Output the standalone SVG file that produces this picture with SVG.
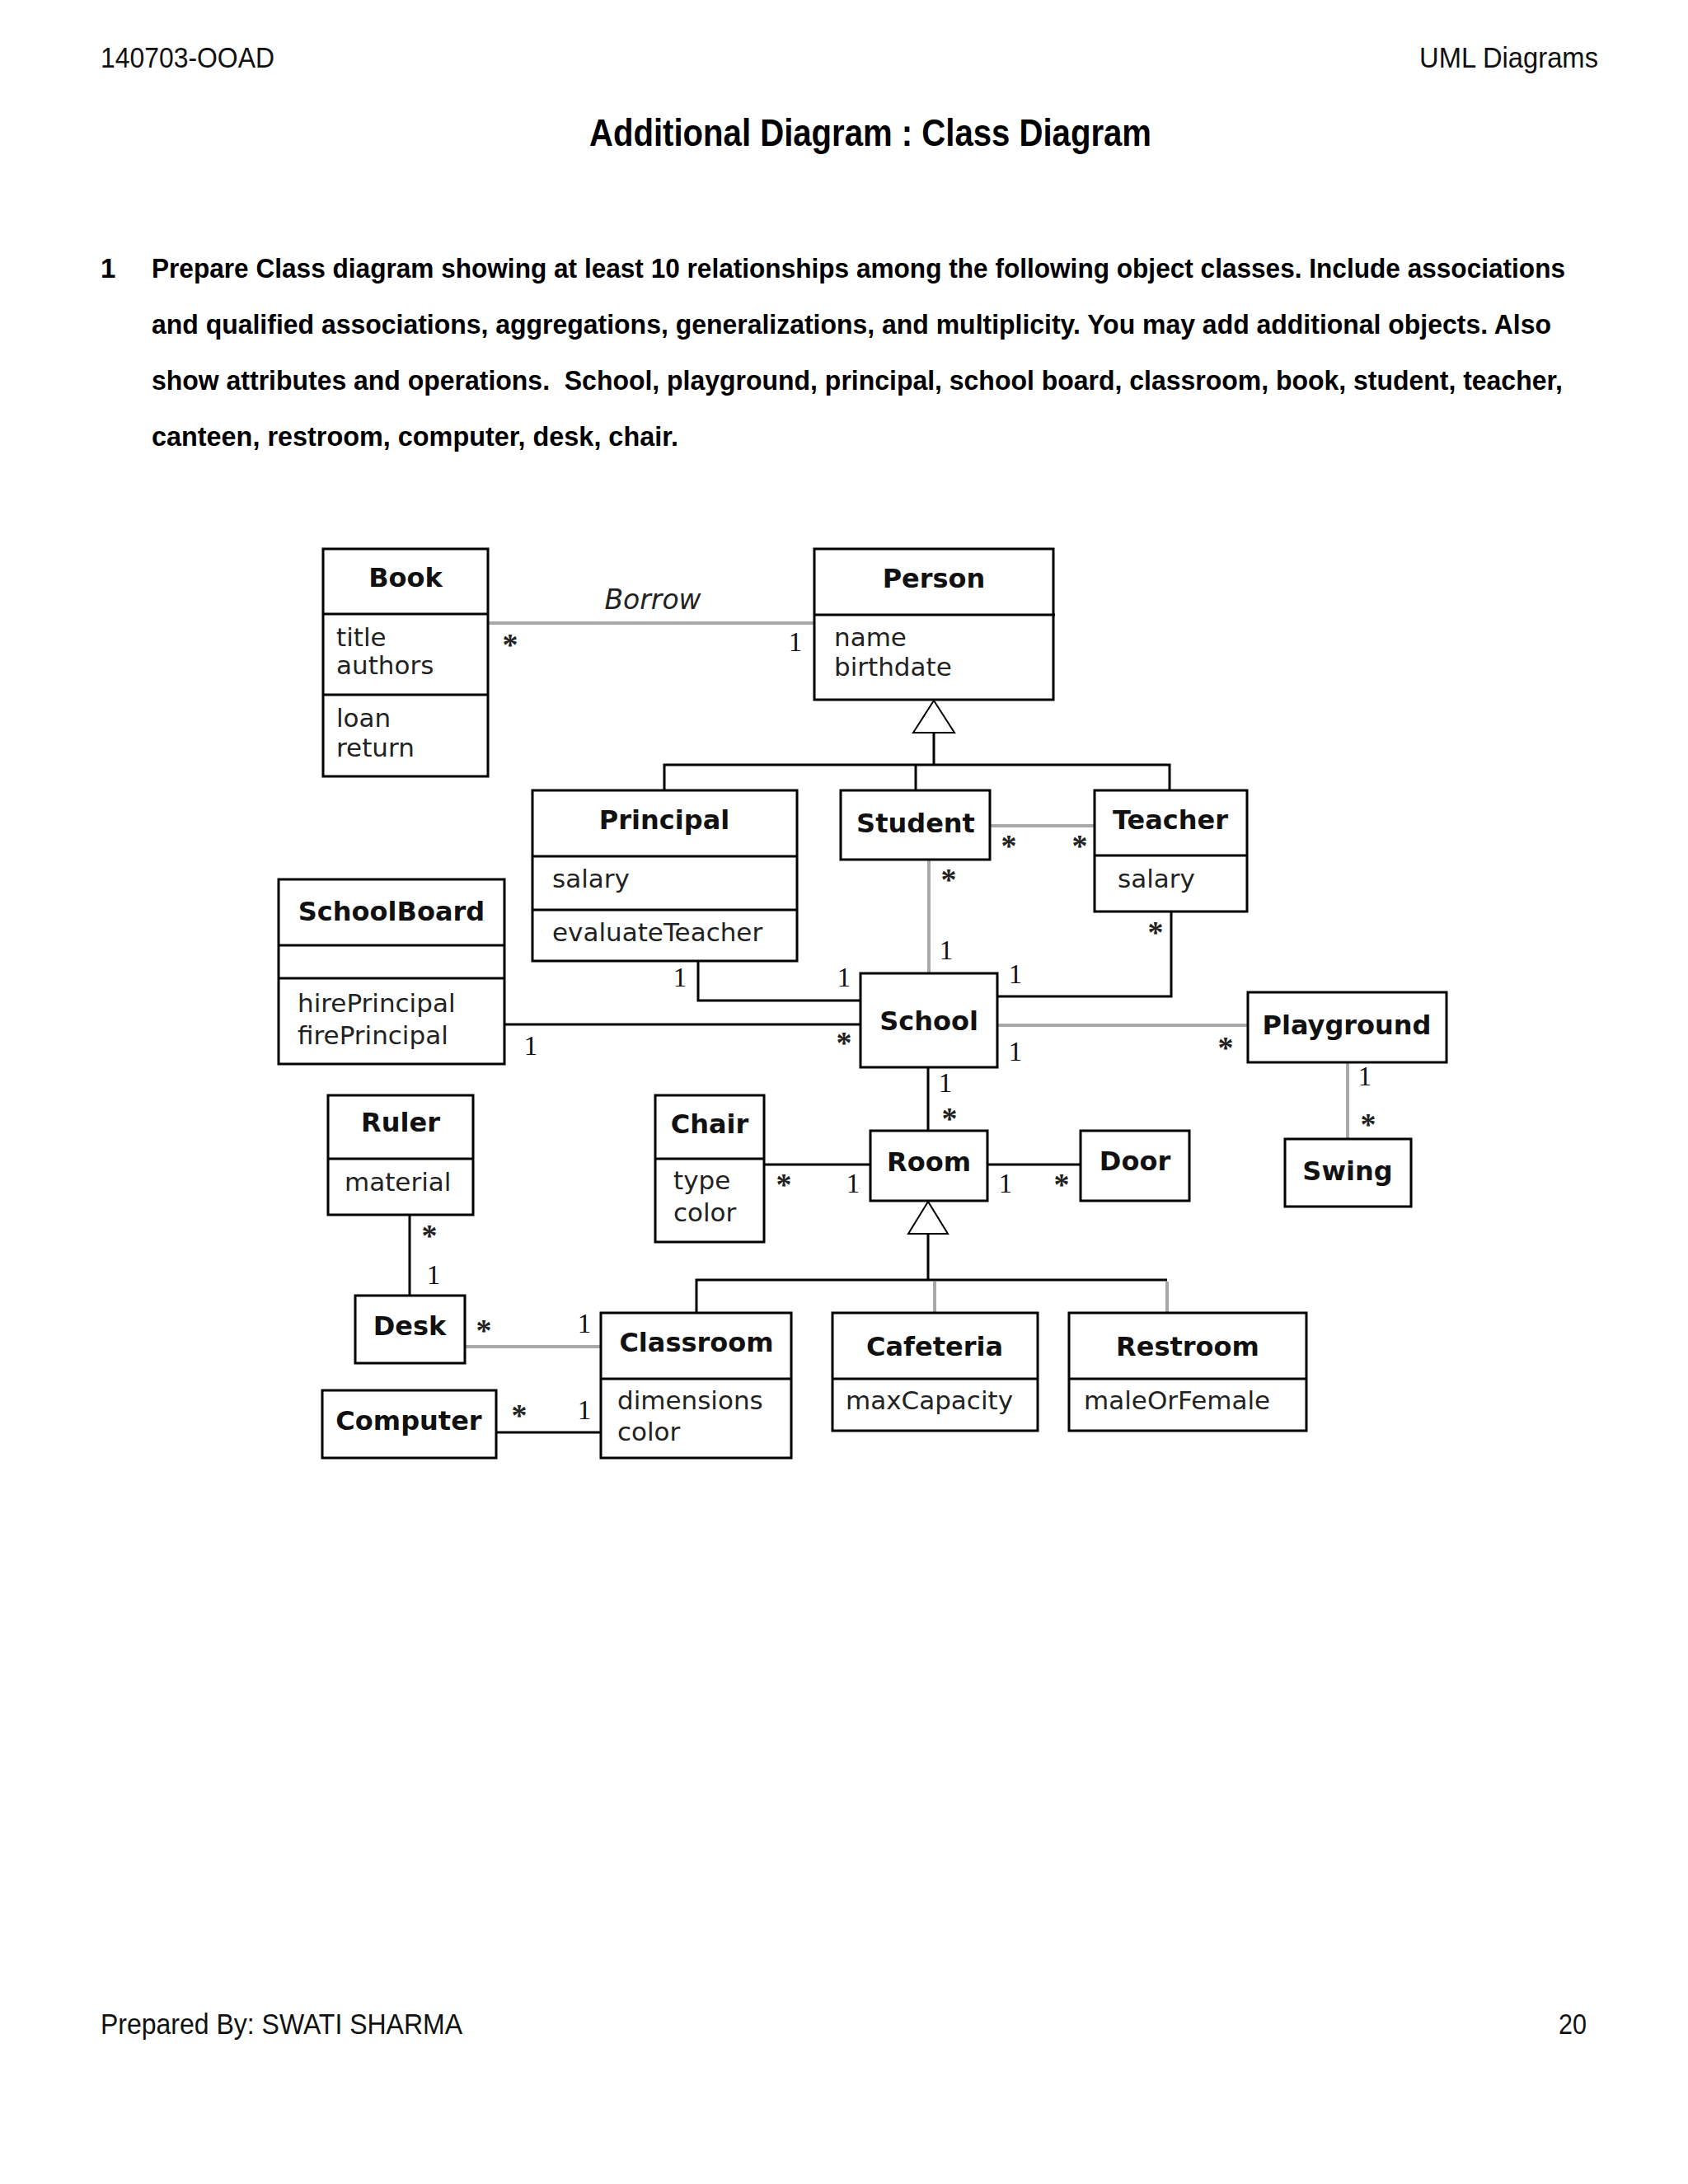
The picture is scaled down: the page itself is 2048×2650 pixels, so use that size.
<svg xmlns="http://www.w3.org/2000/svg" width="2048" height="2650" viewBox="0 0 2048 2650">
<style>
.hd{font-family:"Liberation Sans",Arial,sans-serif;font-size:35px;fill:#111}
.tt{font-family:"Liberation Sans",Arial,sans-serif;font-size:46px;font-weight:bold;fill:#000}
.q{font-family:"Liberation Sans",Arial,sans-serif;font-size:33px;font-weight:bold;fill:#000}
.box{fill:#fff;stroke:#000;stroke-width:3}
.sep{stroke:#000;stroke-width:3}
.n{font-family:"DejaVu Sans",sans-serif;font-size:32px;font-weight:bold;text-anchor:middle;fill:#111}
.a{font-family:"DejaVu Sans",sans-serif;font-size:31px;fill:#222}
.m{font-family:"Liberation Serif",serif;font-size:33px;text-anchor:middle;fill:#111}
.s{font-family:"Liberation Serif",serif;font-size:38px;font-weight:bold;text-anchor:middle;fill:#222}
.k{fill:none;stroke:#000;stroke-width:3}
.g{fill:none;stroke:#a8a8a8;stroke-width:4}
.tri{fill:#fff;stroke:#000;stroke-width:2}
.lbl{font-family:"DejaVu Sans",sans-serif;font-size:33px;font-style:italic;text-anchor:middle;fill:#222}
</style>
<rect x="0" y="0" width="2048" height="2650" fill="#fff"/>

<g id="page-text">
<text class="hd" x="122" y="82" textLength="211" lengthAdjust="spacingAndGlyphs">140703-OOAD</text>
<text class="hd" x="1722" y="82" textLength="217" lengthAdjust="spacingAndGlyphs">UML Diagrams</text>
<text class="tt" x="715" y="177" textLength="682" lengthAdjust="spacingAndGlyphs">Additional Diagram : Class Diagram</text>
<text class="q" x="122" y="337">1</text>
<text class="q" x="184" y="337" textLength="1715" lengthAdjust="spacingAndGlyphs">Prepare Class diagram showing at least 10 relationships among the following object classes. Include associations</text>
<text class="q" x="184" y="405" textLength="1698" lengthAdjust="spacingAndGlyphs">and qualified associations, aggregations, generalizations, and multiplicity. You may add additional objects. Also</text>
<text class="q" x="184" y="473" textLength="1712" lengthAdjust="spacingAndGlyphs" xml:space="preserve">show attributes and operations.  School, playground, principal, school board, classroom, book, student, teacher,</text>
<text class="q" x="184" y="541" textLength="639" lengthAdjust="spacingAndGlyphs">canteen, restroom, computer, desk, chair.</text>
<text class="hd" x="122" y="2468" textLength="439" lengthAdjust="spacingAndGlyphs">Prepared By: SWATI SHARMA</text>
<text class="hd" x="1891" y="2468" textLength="34" lengthAdjust="spacingAndGlyphs">20</text>
</g>

<g id="connectors">
<line class="g" x1="592" y1="756" x2="988" y2="756"/>
<text class="lbl" x="792" y="739">Borrow</text>
<text class="s" x="619" y="795">*</text>
<text class="m" x="965" y="790">1</text>

<polygon class="tri" points="1133,850 1108,889 1158,889"/>
<polyline class="k" points="1133,889 1133,928"/>
<polyline class="k" points="806,959 806,928 1419,928 1419,959"/>
<line class="k" x1="1111" y1="928" x2="1111" y2="959"/>

<line class="g" x1="1201" y1="1002" x2="1328" y2="1002"/>
<text class="s" x="1224" y="1039">*</text>
<text class="s" x="1310" y="1039">*</text>

<line class="g" x1="1127" y1="1043" x2="1127" y2="1181"/>
<text class="s" x="1151" y="1080">*</text>
<text class="m" x="1148" y="1164">1</text>

<polyline class="k" points="1421,1106 1421,1209 1210,1209"/>
<text class="s" x="1402" y="1144">*</text>
<text class="m" x="1232" y="1193">1</text>

<polyline class="k" points="847,1166 847,1214 1044,1214"/>
<text class="m" x="825" y="1197">1</text>
<text class="m" x="1024" y="1197">1</text>

<line class="k" x1="612" y1="1243" x2="1044" y2="1243"/>
<text class="m" x="644" y="1280">1</text>
<text class="s" x="1024" y="1278">*</text>

<line class="g" x1="1210" y1="1244" x2="1514" y2="1244"/>
<text class="m" x="1232" y="1287">1</text>
<text class="s" x="1487" y="1284">*</text>

<line class="g" x1="1635" y1="1289" x2="1635" y2="1382"/>
<text class="m" x="1656" y="1317">1</text>
<text class="s" x="1660" y="1377">*</text>

<line class="k" x1="1126" y1="1295" x2="1126" y2="1372"/>
<text class="m" x="1147" y="1325">1</text>
<text class="s" x="1152" y="1370">*</text>

<line class="k" x1="1198" y1="1413" x2="1311" y2="1413"/>
<text class="m" x="1220" y="1447">1</text>
<text class="s" x="1288" y="1450">*</text>

<line class="k" x1="927" y1="1413" x2="1056" y2="1413"/>
<text class="s" x="951" y="1450">*</text>
<text class="m" x="1035" y="1447">1</text>

<line class="k" x1="497" y1="1474" x2="497" y2="1572"/>
<text class="s" x="521" y="1512">*</text>
<text class="m" x="526" y="1558">1</text>

<line class="g" x1="564" y1="1634" x2="729" y2="1634"/>
<text class="s" x="587" y="1627">*</text>
<text class="m" x="709" y="1617">1</text>

<line class="k" x1="602" y1="1738" x2="729" y2="1738"/>
<text class="s" x="630" y="1730">*</text>
<text class="m" x="709" y="1722">1</text>

<polygon class="tri" points="1126,1458 1102,1497 1150,1497"/>
<line class="k" x1="1126" y1="1497" x2="1126" y2="1553"/>
<polyline class="k" points="845,1593 845,1553 1416,1553"/>
<line class="g" x1="1134" y1="1555" x2="1134" y2="1593"/>
<line class="g" x1="1416" y1="1555" x2="1416" y2="1593"/>
</g>

<g id="Book">
<rect class="box" x="392" y="666" width="200" height="276"/>
<line class="sep" x1="392" y1="745" x2="592" y2="745"/>
<line class="sep" x1="392" y1="843" x2="592" y2="843"/>
<text class="n" x="492" y="712">Book</text>
<text class="a" x="408" y="784">title</text>
<text class="a" x="408" y="818">authors</text>
<text class="a" x="408" y="882">loan</text>
<text class="a" x="408" y="918">return</text>
</g>

<g id="Person">
<rect class="box" x="988" y="666" width="290" height="183"/>
<line class="sep" x1="988" y1="746" x2="1280" y2="746"/>
<text class="n" x="1133" y="713">Person</text>
<text class="a" x="1012" y="784">name</text>
<text class="a" x="1012" y="820">birthdate</text>
</g>

<g id="Principal">
<rect class="box" x="646" y="959" width="321" height="207"/>
<line class="sep" x1="646" y1="1039" x2="967" y2="1039"/>
<line class="sep" x1="646" y1="1104" x2="967" y2="1104"/>
<text class="n" x="806" y="1006">Principal</text>
<text class="a" x="670" y="1077">salary</text>
<text class="a" x="670" y="1142">evaluateTeacher</text>
</g>

<g id="Student">
<rect class="box" x="1020" y="959" width="181" height="84"/>
<text class="n" x="1111" y="1010">Student</text>
</g>

<g id="Teacher">
<rect class="box" x="1328" y="959" width="185" height="147"/>
<line class="sep" x1="1328" y1="1038" x2="1513" y2="1038"/>
<text class="n" x="1420" y="1006">Teacher</text>
<text class="a" x="1356" y="1077">salary</text>
</g>

<g id="SchoolBoard">
<rect class="box" x="338" y="1067" width="274" height="224"/>
<line class="sep" x1="338" y1="1147" x2="612" y2="1147"/>
<line class="sep" x1="338" y1="1187" x2="612" y2="1187"/>
<text class="n" x="475" y="1117">SchoolBoard</text>
<text class="a" x="361" y="1228">hirePrincipal</text>
<text class="a" x="361" y="1267">firePrincipal</text>
</g>

<g id="School">
<rect class="box" x="1044" y="1181" width="166" height="114"/>
<text class="n" x="1127" y="1250">School</text>
</g>

<g id="Playground">
<rect class="box" x="1514" y="1204" width="241" height="85"/>
<text class="n" x="1634" y="1255">Playground</text>
</g>

<g id="Swing">
<rect class="box" x="1559" y="1382" width="153" height="82"/>
<text class="n" x="1635" y="1432">Swing</text>
</g>

<g id="Ruler">
<rect class="box" x="398" y="1329" width="176" height="145"/>
<line class="sep" x1="398" y1="1406" x2="574" y2="1406"/>
<text class="n" x="486" y="1373">Ruler</text>
<text class="a" x="418" y="1445">material</text>
</g>

<g id="Chair">
<rect class="box" x="795" y="1329" width="132" height="178"/>
<line class="sep" x1="795" y1="1406" x2="927" y2="1406"/>
<text class="n" x="861" y="1375">Chair</text>
<text class="a" x="817" y="1443">type</text>
<text class="a" x="817" y="1482">color</text>
</g>

<g id="Room">
<rect class="box" x="1056" y="1372" width="142" height="85"/>
<text class="n" x="1127" y="1421">Room</text>
</g>

<g id="Door">
<rect class="box" x="1311" y="1372" width="132" height="85"/>
<text class="n" x="1377" y="1420">Door</text>
</g>

<g id="Desk">
<rect class="box" x="431" y="1572" width="133" height="82"/>
<text class="n" x="497" y="1620">Desk</text>
</g>

<g id="Computer">
<rect class="box" x="391" y="1687" width="211" height="82"/>
<text class="n" x="496" y="1735">Computer</text>
</g>

<g id="Classroom">
<rect class="box" x="729" y="1593" width="231" height="176"/>
<line class="sep" x1="729" y1="1673" x2="960" y2="1673"/>
<text class="n" x="845" y="1640">Classroom</text>
<text class="a" x="749" y="1710">dimensions</text>
<text class="a" x="749" y="1748">color</text>
</g>

<g id="Cafeteria">
<rect class="box" x="1010" y="1593" width="249" height="143"/>
<line class="sep" x1="1010" y1="1673" x2="1259" y2="1673"/>
<text class="n" x="1134" y="1645">Cafeteria</text>
<text class="a" x="1026" y="1710">maxCapacity</text>
</g>

<g id="Restroom">
<rect class="box" x="1297" y="1593" width="288" height="143"/>
<line class="sep" x1="1297" y1="1673" x2="1585" y2="1673"/>
<text class="n" x="1441" y="1645">Restroom</text>
<text class="a" x="1315" y="1710">maleOrFemale</text>
</g>
</svg>
